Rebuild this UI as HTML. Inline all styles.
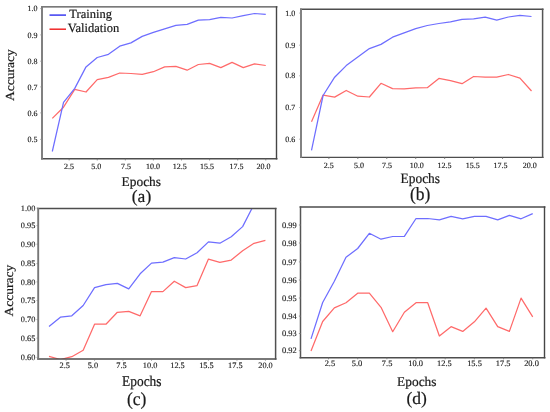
<!DOCTYPE html>
<html><head><meta charset="utf-8"><style>
html,body{margin:0;padding:0;background:#fff;}
body{width:550px;height:412px;overflow:hidden;}
svg{display:block;font-family:"Liberation Serif", "Times New Roman", serif;text-rendering:geometricPrecision;}
text{stroke:#1a1a1a;stroke-width:0.2px;}
.tk{stroke-width:0.15px;}
</style></head><body>
<svg width="550" height="412" viewBox="0 0 550 412">
<rect width="550" height="412" fill="#fff"/>
<defs><clipPath id="clipa"><rect x="42.0" y="6.85" width="234.50" height="151.95"/></clipPath></defs>
<g clip-path="url(#clipa)" fill="none" stroke-width="1.25" stroke-linejoin="round">
<polyline points="52.30,118.40 63.53,107.20 74.77,89.40 86.00,92.00 97.24,79.60 108.47,77.40 119.71,73.00 130.94,73.50 142.18,74.30 153.41,71.70 164.65,66.90 175.88,66.40 187.12,70.20 198.36,64.50 209.59,63.30 220.82,67.60 232.06,62.40 243.30,67.60 254.53,63.80 265.76,65.50" stroke="#ff6a6a"/>
<polyline points="52.30,151.50 63.53,102.30 74.77,88.40 86.00,66.90 97.24,57.50 108.47,54.30 119.71,46.20 130.94,42.90 142.18,36.40 153.41,32.40 164.65,28.80 175.88,25.30 187.12,24.30 198.36,20.10 209.59,19.60 220.82,17.30 232.06,18.00 243.30,15.60 254.53,13.50 265.76,14.40" stroke="#6e6eff"/>
</g>
<path d="M41.05,6.85H277.45M41.05,158.8H277.45" stroke="#4e4e4e" stroke-width="1.4" fill="none"/>
<path d="M42.0,6.25V159.4" stroke="#7a7a7a" stroke-width="1.9" fill="none"/>
<path d="M276.5,6.25V159.4" stroke="#454545" stroke-width="1.4" fill="none"/>
<line x1="69.15" y1="158.8" x2="69.15" y2="160.4" stroke="#777" stroke-width="0.9"/>
<text x="69.10" y="169.3" class="tk" font-size="8.0" text-anchor="middle" fill="#1a1a1a">2.5</text>
<line x1="97.24" y1="158.8" x2="97.24" y2="160.4" stroke="#777" stroke-width="0.9"/>
<text x="96.30" y="169.3" class="tk" font-size="8.0" text-anchor="middle" fill="#1a1a1a">5.0</text>
<line x1="125.33" y1="158.8" x2="125.33" y2="160.4" stroke="#777" stroke-width="0.9"/>
<text x="125.90" y="169.3" class="tk" font-size="8.0" text-anchor="middle" fill="#1a1a1a">7.5</text>
<line x1="153.41" y1="158.8" x2="153.41" y2="160.4" stroke="#777" stroke-width="0.9"/>
<text x="153.10" y="169.3" class="tk" font-size="8.0" text-anchor="middle" fill="#1a1a1a">10.0</text>
<line x1="181.50" y1="158.8" x2="181.50" y2="160.4" stroke="#777" stroke-width="0.9"/>
<text x="179.70" y="169.3" class="tk" font-size="8.0" text-anchor="middle" fill="#1a1a1a">12.5</text>
<line x1="209.59" y1="158.8" x2="209.59" y2="160.4" stroke="#777" stroke-width="0.9"/>
<text x="207.00" y="169.3" class="tk" font-size="8.0" text-anchor="middle" fill="#1a1a1a">15.5</text>
<line x1="237.68" y1="158.8" x2="237.68" y2="160.4" stroke="#777" stroke-width="0.9"/>
<text x="236.60" y="169.3" class="tk" font-size="8.0" text-anchor="middle" fill="#1a1a1a">17.5</text>
<line x1="265.76" y1="158.8" x2="265.76" y2="160.4" stroke="#777" stroke-width="0.9"/>
<text x="263.40" y="169.3" class="tk" font-size="8.0" text-anchor="middle" fill="#1a1a1a">20.0</text>
<line x1="40.4" y1="8.60" x2="42.0" y2="8.60" stroke="#888" stroke-width="0.9"/>
<text x="37.4" y="11.20" class="tk" font-size="8.0" text-anchor="end" fill="#1a1a1a">1.0</text>
<line x1="40.4" y1="34.90" x2="42.0" y2="34.90" stroke="#888" stroke-width="0.9"/>
<text x="37.4" y="37.50" class="tk" font-size="8.0" text-anchor="end" fill="#1a1a1a">0.9</text>
<line x1="40.4" y1="61.20" x2="42.0" y2="61.20" stroke="#888" stroke-width="0.9"/>
<text x="37.4" y="63.80" class="tk" font-size="8.0" text-anchor="end" fill="#1a1a1a">0.8</text>
<line x1="40.4" y1="86.90" x2="42.0" y2="86.90" stroke="#888" stroke-width="0.9"/>
<text x="37.4" y="89.50" class="tk" font-size="8.0" text-anchor="end" fill="#1a1a1a">0.7</text>
<line x1="40.4" y1="112.90" x2="42.0" y2="112.90" stroke="#888" stroke-width="0.9"/>
<text x="37.4" y="115.50" class="tk" font-size="8.0" text-anchor="end" fill="#1a1a1a">0.6</text>
<line x1="40.4" y1="139.40" x2="42.0" y2="139.40" stroke="#888" stroke-width="0.9"/>
<text x="37.4" y="142.00" class="tk" font-size="8.0" text-anchor="end" fill="#1a1a1a">0.5</text>
<text transform="translate(13.7,75.2) scale(1,1.1) rotate(-90)" font-size="12.3" text-anchor="middle" fill="#1a1a1a">Accuracy</text>
<text transform="translate(141.3,185.6) scale(1,1.0)" font-size="13.4" text-anchor="middle" fill="#1a1a1a">Epochs</text>
<text transform="translate(141.5,202.0) scale(1,1.0)" font-size="17.5" text-anchor="middle" fill="#1a1a1a">(a)</text>
<line x1="49.5" y1="15.1" x2="66" y2="15.1" stroke="#3c3cf0" stroke-width="1.5"/>
<text x="69.3" y="17.8" font-size="12.5" fill="#1a1a1a">Training</text>
<line x1="49.5" y1="29.2" x2="66" y2="29.2" stroke="#f02828" stroke-width="1.5"/>
<text x="67.8" y="32.0" font-size="12.5" fill="#1a1a1a">Validation</text>
<defs><clipPath id="clipb"><rect x="301.0" y="9.2" width="241.60" height="148.20"/></clipPath></defs>
<g clip-path="url(#clipb)" fill="none" stroke-width="1.25" stroke-linejoin="round">
<polyline points="311.50,121.70 323.08,95.10 334.66,97.10 346.24,90.50 357.82,96.20 369.40,97.00 380.98,83.30 392.56,88.60 404.14,88.90 415.72,87.90 427.30,87.70 438.88,78.40 450.46,80.60 462.04,83.70 473.62,76.50 485.20,77.20 496.78,77.20 508.36,74.50 519.94,78.20 531.52,91.00" stroke="#ff6a6a"/>
<polyline points="311.50,150.30 323.08,95.50 334.66,77.20 346.24,65.60 357.82,57.10 369.40,48.60 380.98,44.40 392.56,37.20 404.14,32.80 415.72,28.70 427.30,25.50 438.88,23.50 450.46,21.80 462.04,19.40 473.62,18.90 485.20,17.20 496.78,20.10 508.36,17.00 519.94,15.30 531.52,16.50" stroke="#6e6eff"/>
</g>
<path d="M300.05,9.2H543.5500000000001M300.05,157.4H543.5500000000001" stroke="#4e4e4e" stroke-width="1.4" fill="none"/>
<path d="M301.0,8.6V158.0" stroke="#7c7c7c" stroke-width="1.9" fill="none"/>
<path d="M542.6,8.6V158.0" stroke="#555555" stroke-width="1.5" fill="none"/>
<line x1="328.87" y1="157.4" x2="328.87" y2="159.0" stroke="#777" stroke-width="0.9"/>
<text x="328.80" y="167.6" class="tk" font-size="8.0" text-anchor="middle" fill="#1a1a1a">2.5</text>
<line x1="357.82" y1="157.4" x2="357.82" y2="159.0" stroke="#777" stroke-width="0.9"/>
<text x="358.90" y="167.6" class="tk" font-size="8.0" text-anchor="middle" fill="#1a1a1a">5.0</text>
<line x1="386.77" y1="157.4" x2="386.77" y2="159.0" stroke="#777" stroke-width="0.9"/>
<text x="387.10" y="167.6" class="tk" font-size="8.0" text-anchor="middle" fill="#1a1a1a">7.5</text>
<line x1="415.72" y1="157.4" x2="415.72" y2="159.0" stroke="#777" stroke-width="0.9"/>
<text x="416.70" y="167.6" class="tk" font-size="8.0" text-anchor="middle" fill="#1a1a1a">10.0</text>
<line x1="444.67" y1="157.4" x2="444.67" y2="159.0" stroke="#777" stroke-width="0.9"/>
<text x="444.40" y="167.6" class="tk" font-size="8.0" text-anchor="middle" fill="#1a1a1a">12.5</text>
<line x1="473.62" y1="157.4" x2="473.62" y2="159.0" stroke="#777" stroke-width="0.9"/>
<text x="472.70" y="167.6" class="tk" font-size="8.0" text-anchor="middle" fill="#1a1a1a">15.5</text>
<line x1="502.57" y1="157.4" x2="502.57" y2="159.0" stroke="#777" stroke-width="0.9"/>
<text x="500.40" y="167.6" class="tk" font-size="8.0" text-anchor="middle" fill="#1a1a1a">17.5</text>
<line x1="531.52" y1="157.4" x2="531.52" y2="159.0" stroke="#777" stroke-width="0.9"/>
<text x="529.80" y="167.6" class="tk" font-size="8.0" text-anchor="middle" fill="#1a1a1a">20.0</text>
<line x1="299.4" y1="13.10" x2="301.0" y2="13.10" stroke="#888" stroke-width="0.9"/>
<text x="295.2" y="15.70" class="tk" font-size="8.0" text-anchor="end" fill="#1a1a1a">1.0</text>
<line x1="299.4" y1="45.20" x2="301.0" y2="45.20" stroke="#888" stroke-width="0.9"/>
<text x="295.2" y="47.80" class="tk" font-size="8.0" text-anchor="end" fill="#1a1a1a">0.9</text>
<line x1="299.4" y1="75.80" x2="301.0" y2="75.80" stroke="#888" stroke-width="0.9"/>
<text x="295.2" y="78.40" class="tk" font-size="8.0" text-anchor="end" fill="#1a1a1a">0.8</text>
<line x1="299.4" y1="107.50" x2="301.0" y2="107.50" stroke="#888" stroke-width="0.9"/>
<text x="295.2" y="110.10" class="tk" font-size="8.0" text-anchor="end" fill="#1a1a1a">0.7</text>
<line x1="299.4" y1="139.20" x2="301.0" y2="139.20" stroke="#888" stroke-width="0.9"/>
<text x="295.2" y="141.80" class="tk" font-size="8.0" text-anchor="end" fill="#1a1a1a">0.6</text>
<text transform="translate(420.3,183.3) scale(1,1.07)" font-size="13.4" text-anchor="middle" fill="#1a1a1a">Epochs</text>
<text transform="translate(420.1,200.2) scale(1,1.07)" font-size="17.5" text-anchor="middle" fill="#1a1a1a">(b)</text>
<defs><clipPath id="clipc"><rect x="38.2" y="208.5" width="237.40" height="150.50"/></clipPath></defs>
<g clip-path="url(#clipc)" fill="none" stroke-width="1.25" stroke-linejoin="round">
<polyline points="49.00,356.30 60.39,359.50 71.78,356.70 83.17,350.30 94.56,324.20 105.95,324.20 117.34,312.30 128.73,311.30 140.12,315.80 151.51,291.60 162.90,291.60 174.29,281.20 185.68,287.60 197.07,285.60 208.46,259.10 219.85,262.30 231.24,260.10 242.63,250.70 254.02,243.30 265.41,240.40" stroke="#ff6a6a"/>
<polyline points="49.00,326.40 60.39,317.20 71.78,315.80 83.17,305.50 94.56,287.60 105.95,284.60 117.34,283.40 128.73,288.90 140.12,273.80 151.51,263.10 162.90,262.20 174.29,257.60 185.68,259.00 197.07,252.80 208.46,241.90 219.85,243.20 231.24,236.70 242.63,226.60 254.02,204.40 265.41,198.00" stroke="#6e6eff"/>
</g>
<path d="M37.25,208.5H276.55M37.25,359.0H276.55" stroke="#4e4e4e" stroke-width="1.4" fill="none"/>
<path d="M38.2,207.9V359.6" stroke="#777777" stroke-width="1.9" fill="none"/>
<path d="M275.6,207.9V359.6" stroke="#505050" stroke-width="1.5" fill="none"/>
<line x1="66.09" y1="359.0" x2="66.09" y2="360.6" stroke="#777" stroke-width="0.9"/>
<text x="64.80" y="368.4" class="tk" font-size="8.3" text-anchor="middle" fill="#1a1a1a">2.5</text>
<line x1="94.56" y1="359.0" x2="94.56" y2="360.6" stroke="#777" stroke-width="0.9"/>
<text x="92.90" y="368.4" class="tk" font-size="8.3" text-anchor="middle" fill="#1a1a1a">5.0</text>
<line x1="123.03" y1="359.0" x2="123.03" y2="360.6" stroke="#777" stroke-width="0.9"/>
<text x="121.50" y="368.4" class="tk" font-size="8.3" text-anchor="middle" fill="#1a1a1a">7.5</text>
<line x1="151.51" y1="359.0" x2="151.51" y2="360.6" stroke="#777" stroke-width="0.9"/>
<text x="150.10" y="368.4" class="tk" font-size="8.3" text-anchor="middle" fill="#1a1a1a">10.0</text>
<line x1="179.99" y1="359.0" x2="179.99" y2="360.6" stroke="#777" stroke-width="0.9"/>
<text x="177.50" y="368.4" class="tk" font-size="8.3" text-anchor="middle" fill="#1a1a1a">12.5</text>
<line x1="208.46" y1="359.0" x2="208.46" y2="360.6" stroke="#777" stroke-width="0.9"/>
<text x="206.40" y="368.4" class="tk" font-size="8.3" text-anchor="middle" fill="#1a1a1a">15.5</text>
<line x1="236.94" y1="359.0" x2="236.94" y2="360.6" stroke="#777" stroke-width="0.9"/>
<text x="235.30" y="368.4" class="tk" font-size="8.3" text-anchor="middle" fill="#1a1a1a">17.5</text>
<line x1="265.41" y1="359.0" x2="265.41" y2="360.6" stroke="#777" stroke-width="0.9"/>
<text x="265.50" y="368.4" class="tk" font-size="8.3" text-anchor="middle" fill="#1a1a1a">20.0</text>
<line x1="36.6" y1="208.10" x2="38.2" y2="208.10" stroke="#888" stroke-width="0.9"/>
<text x="35.3" y="210.70" class="tk" font-size="8.3" text-anchor="end" fill="#1a1a1a">1.00</text>
<line x1="36.6" y1="225.60" x2="38.2" y2="225.60" stroke="#888" stroke-width="0.9"/>
<text x="35.3" y="228.20" class="tk" font-size="8.3" text-anchor="end" fill="#1a1a1a">0.95</text>
<line x1="36.6" y1="244.20" x2="38.2" y2="244.20" stroke="#888" stroke-width="0.9"/>
<text x="35.3" y="246.80" class="tk" font-size="8.3" text-anchor="end" fill="#1a1a1a">0.90</text>
<line x1="36.6" y1="263.60" x2="38.2" y2="263.60" stroke="#888" stroke-width="0.9"/>
<text x="35.3" y="266.20" class="tk" font-size="8.3" text-anchor="end" fill="#1a1a1a">0.85</text>
<line x1="36.6" y1="281.90" x2="38.2" y2="281.90" stroke="#888" stroke-width="0.9"/>
<text x="35.3" y="284.50" class="tk" font-size="8.3" text-anchor="end" fill="#1a1a1a">0.80</text>
<line x1="36.6" y1="300.50" x2="38.2" y2="300.50" stroke="#888" stroke-width="0.9"/>
<text x="35.3" y="303.10" class="tk" font-size="8.3" text-anchor="end" fill="#1a1a1a">0.75</text>
<line x1="36.6" y1="319.60" x2="38.2" y2="319.60" stroke="#888" stroke-width="0.9"/>
<text x="35.3" y="322.20" class="tk" font-size="8.3" text-anchor="end" fill="#1a1a1a">0.70</text>
<line x1="36.6" y1="338.10" x2="38.2" y2="338.10" stroke="#888" stroke-width="0.9"/>
<text x="35.3" y="340.70" class="tk" font-size="8.3" text-anchor="end" fill="#1a1a1a">0.65</text>
<line x1="36.6" y1="357.40" x2="38.2" y2="357.40" stroke="#888" stroke-width="0.9"/>
<text x="35.3" y="360.00" class="tk" font-size="8.3" text-anchor="end" fill="#1a1a1a">0.60</text>
<text transform="translate(13.4,290.7) scale(1,1.1) rotate(-90)" font-size="12.3" text-anchor="middle" fill="#1a1a1a">Accuracy</text>
<text transform="translate(141.8,385.8) scale(1,1.1)" font-size="13.4" text-anchor="middle" fill="#1a1a1a">Epochs</text>
<text transform="translate(136.7,405.0) scale(1,1.06)" font-size="17.5" text-anchor="middle" fill="#1a1a1a">(c)</text>
<defs><clipPath id="clipd"><rect x="300.5" y="207.0" width="244.00" height="150.70"/></clipPath></defs>
<g clip-path="url(#clipd)" fill="none" stroke-width="1.25" stroke-linejoin="round">
<polyline points="311.00,350.90 322.67,321.50 334.34,307.90 346.01,302.80 357.68,293.20 369.35,293.20 381.02,307.30 392.69,331.70 404.36,312.30 416.03,302.70 427.70,302.70 439.37,336.00 451.04,326.70 462.71,331.40 474.38,321.80 486.05,308.20 497.72,326.70 509.39,331.40 521.06,298.10 532.73,316.90" stroke="#ff6a6a"/>
<polyline points="311.00,338.90 322.67,302.50 334.34,281.30 346.01,257.30 357.68,248.50 369.35,233.30 381.02,239.20 392.69,236.50 404.36,236.40 416.03,218.50 427.70,218.50 439.37,219.90 451.04,216.40 462.71,218.80 474.38,216.40 486.05,216.40 497.72,219.90 509.39,215.30 521.06,218.80 532.73,213.60" stroke="#6e6eff"/>
</g>
<path d="M299.55,207.0H545.45M299.55,357.7H545.45" stroke="#4e4e4e" stroke-width="1.4" fill="none"/>
<path d="M300.5,206.4V358.3" stroke="#555555" stroke-width="1.5" fill="none"/>
<path d="M544.5,206.4V358.3" stroke="#454545" stroke-width="1.4" fill="none"/>
<line x1="328.50" y1="357.7" x2="328.50" y2="359.3" stroke="#777" stroke-width="0.9"/>
<text x="329.90" y="366.3" class="tk" font-size="8.4" text-anchor="middle" fill="#1a1a1a">2.5</text>
<line x1="357.68" y1="357.7" x2="357.68" y2="359.3" stroke="#777" stroke-width="0.9"/>
<text x="357.00" y="366.3" class="tk" font-size="8.4" text-anchor="middle" fill="#1a1a1a">5.0</text>
<line x1="386.86" y1="357.7" x2="386.86" y2="359.3" stroke="#777" stroke-width="0.9"/>
<text x="387.10" y="366.3" class="tk" font-size="8.4" text-anchor="middle" fill="#1a1a1a">7.5</text>
<line x1="416.03" y1="357.7" x2="416.03" y2="359.3" stroke="#777" stroke-width="0.9"/>
<text x="415.70" y="366.3" class="tk" font-size="8.4" text-anchor="middle" fill="#1a1a1a">10.0</text>
<line x1="445.21" y1="357.7" x2="445.21" y2="359.3" stroke="#777" stroke-width="0.9"/>
<text x="444.40" y="366.3" class="tk" font-size="8.4" text-anchor="middle" fill="#1a1a1a">12.5</text>
<line x1="474.38" y1="357.7" x2="474.38" y2="359.3" stroke="#777" stroke-width="0.9"/>
<text x="474.50" y="366.3" class="tk" font-size="8.4" text-anchor="middle" fill="#1a1a1a">15.5</text>
<line x1="503.56" y1="357.7" x2="503.56" y2="359.3" stroke="#777" stroke-width="0.9"/>
<text x="503.10" y="366.3" class="tk" font-size="8.4" text-anchor="middle" fill="#1a1a1a">17.5</text>
<line x1="532.73" y1="357.7" x2="532.73" y2="359.3" stroke="#777" stroke-width="0.9"/>
<text x="531.50" y="366.3" class="tk" font-size="8.4" text-anchor="middle" fill="#1a1a1a">20.0</text>
<line x1="298.9" y1="225.00" x2="300.5" y2="225.00" stroke="#888" stroke-width="0.9"/>
<text x="296.7" y="227.60" class="tk" font-size="8.4" text-anchor="end" fill="#1a1a1a">0.99</text>
<line x1="298.9" y1="243.00" x2="300.5" y2="243.00" stroke="#888" stroke-width="0.9"/>
<text x="296.7" y="245.60" class="tk" font-size="8.4" text-anchor="end" fill="#1a1a1a">0.98</text>
<line x1="298.9" y1="261.90" x2="300.5" y2="261.90" stroke="#888" stroke-width="0.9"/>
<text x="296.7" y="264.50" class="tk" font-size="8.4" text-anchor="end" fill="#1a1a1a">0.97</text>
<line x1="298.9" y1="280.00" x2="300.5" y2="280.00" stroke="#888" stroke-width="0.9"/>
<text x="296.7" y="282.60" class="tk" font-size="8.4" text-anchor="end" fill="#1a1a1a">0.96</text>
<line x1="298.9" y1="298.00" x2="300.5" y2="298.00" stroke="#888" stroke-width="0.9"/>
<text x="296.7" y="300.60" class="tk" font-size="8.4" text-anchor="end" fill="#1a1a1a">0.95</text>
<line x1="298.9" y1="316.10" x2="300.5" y2="316.10" stroke="#888" stroke-width="0.9"/>
<text x="296.7" y="318.70" class="tk" font-size="8.4" text-anchor="end" fill="#1a1a1a">0.94</text>
<line x1="298.9" y1="333.50" x2="300.5" y2="333.50" stroke="#888" stroke-width="0.9"/>
<text x="296.7" y="336.10" class="tk" font-size="8.4" text-anchor="end" fill="#1a1a1a">0.93</text>
<line x1="298.9" y1="350.70" x2="300.5" y2="350.70" stroke="#888" stroke-width="0.9"/>
<text x="296.7" y="353.30" class="tk" font-size="8.4" text-anchor="end" fill="#1a1a1a">0.92</text>
<text transform="translate(416.8,385.5) scale(1,1.0)" font-size="13.4" text-anchor="middle" fill="#1a1a1a">Epochs</text>
<text transform="translate(416.6,403.8) scale(1,1.0)" font-size="17.5" text-anchor="middle" fill="#1a1a1a">(d)</text>
</svg>
</body></html>
